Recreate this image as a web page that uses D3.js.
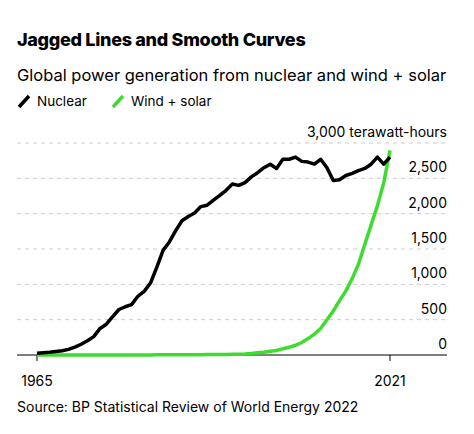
<!DOCTYPE html>
<html><head><meta charset="utf-8">
<script src="https://cdn.jsdelivr.net/npm/d3@7"></script>
<style>
body{margin:0;background:#fff;font-family:Inter,"Liberation Sans",sans-serif;}
</style></head><body>
<svg id="c" width="474" height="434"></svg>
<script>
// years 1965..2021
var years = d3.range(1965, 2022);
var nuclear = [25,33,40,50,61,80,112,152,203,260,376,436,542,644,683,713,831,900,1018,1240,1480,1600,1760,1900,1960,2010,2100,2120,2190,2260,2330,2420,2400,2440,2520,2580,2650,2700,2640,2770,2770,2800,2740,2730,2700,2770,2650,2470,2480,2540,2570,2610,2640,2700,2800,2700,2800];
var windSolar = [0,0,0,0,0,0,0,0,0,0,0,0,0,0,0,0,0,0,1,2,3,3,3,4,4,4,5,6,7,7,8,10,12,15,22,32,39,54,65,88,109,138,177,232,296,376,499,623,769,906,1081,1285,1563,1840,2112,2435,2895];
var yTicks = [0,500,1000,1500,2000,2500,3000];
var xTicks = [1965, 2021];

var svg = d3.select("#c");
var x = d3.scaleLinear().domain([1965, 2021]).range([37, 390]);
var y = d3.scaleLinear().domain([0, 3000]).range([355, 143]);

svg.append("text").attr("x",17).attr("y",46).attr("font-size",18).attr("font-weight",800).attr("letter-spacing",-0.3).text("Jagged Lines and Smooth Curves");
svg.append("text").attr("x",17).attr("y",81).attr("font-size",16.5).text("Global power generation from nuclear and wind + solar");

// legend
var leg = [["Nuclear","#000",17],["Wind + solar","#3ddc2f",111]];
leg.forEach(function(l){
  svg.append("line").attr("x1",l[2]+2).attr("y1",107).attr("x2",l[2]+12).attr("y2",96).attr("stroke",l[1]).attr("stroke-width",3.5);
  svg.append("text").attr("x",l[2]+20).attr("y",106).attr("font-size",13.5).text(l[0]);
});

// grid
yTicks.slice(1).forEach(function(t){
  svg.append("line").attr("x1",17).attr("x2",447).attr("y1",y(t)).attr("y2",y(t))
    .attr("stroke","#ccc").attr("stroke-dasharray","4,4");
});
yTicks.forEach(function(t){
  svg.append("text").attr("x",447).attr("y",y(t)-6).attr("text-anchor","end").attr("font-size",14)
    .text(d3.format(",")(t) + (t==3000 ? " terawatt-hours" : ""));
});
svg.append("line").attr("x1",17).attr("x2",447).attr("y1",y(0)).attr("y2",y(0)).attr("stroke","#000");
xTicks.forEach(function(t){
  svg.append("line").attr("x1",x(t)).attr("x2",x(t)).attr("y1",y(0)).attr("y2",y(0)+6).attr("stroke","#000");
  svg.append("text").attr("x",x(t)).attr("y",386).attr("text-anchor","middle").attr("font-size",14).text(t);
});

var line = function(vals){ return d3.line().x(function(d,i){return x(years[i]);}).y(function(d){return y(d);})(vals); };
svg.append("path").attr("d",line(windSolar)).attr("fill","none").attr("stroke","#3ddc2f").attr("stroke-width",3.5);
svg.append("path").attr("d",line(nuclear)).attr("fill","none").attr("stroke","#000").attr("stroke-width",3.5).attr("stroke-linejoin","round");

svg.append("text").attr("x",17).attr("y",412).attr("font-size",14).text("Source: BP Statistical Review of World Energy 2022");
</script>
</body></html>
